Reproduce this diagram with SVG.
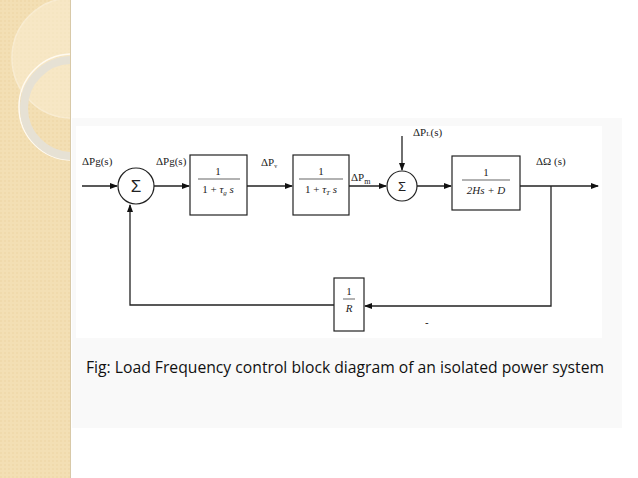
<svg xmlns="http://www.w3.org/2000/svg" width="638" height="478" viewBox="0 0 638 478">
<defs>
<pattern id="dots" width="4" height="4" patternUnits="userSpaceOnUse"><rect width="4" height="4" fill="#f3dfb4"/><circle cx="1" cy="1" r="0.7" fill="#ecd39f"/></pattern>
<clipPath id="strip"><rect width="70" height="478"/></clipPath>
<marker id="ar" markerWidth="8" markerHeight="6" refX="7" refY="3" orient="auto" markerUnits="userSpaceOnUse"><path d="M0,0 L8,3 L0,6 Z" fill="#111"/></marker>
<style>
.ln{stroke:#222;stroke-width:1.3;fill:none}
.bx{stroke:#222;stroke-width:1.2;fill:#fff}
.t{font-family:"Liberation Serif",serif;font-size:11px;fill:#222}
.ti{font-family:"Liberation Serif",serif;font-size:11px;fill:#222;font-style:italic}
</style>
</defs>
<rect width="638" height="478" fill="#fff"/>
<rect width="70" height="478" fill="url(#dots)"/>
<g clip-path="url(#strip)">
<circle cx="72" cy="58" r="60" fill="#fbf0d6" opacity="0.5" stroke="#fffaf0" stroke-width="1.5"/>
<circle cx="72" cy="107" r="53" fill="none" stroke="#fffaf0" stroke-width="1.5"/>
<circle cx="72" cy="108" r="48" fill="none" stroke="#e6e1d4" stroke-width="8"/>
</g>
<line x1="70.5" y1="0" x2="70.5" y2="478" stroke="#d8c9a8"/>
<rect x="72" y="118" width="550" height="310" fill="#f9f9f9"/>
<rect x="76" y="126" width="526" height="212" fill="#fff"/>
<text x="86" y="373" font-family="'Open Sans',sans-serif" font-size="16" fill="#111" textLength="518" lengthAdjust="spacingAndGlyphs">Fig: Load Frequency control block diagram of an isolated power system</text>
<g id="connectors">
<line class="ln" x1="82" y1="186" x2="117" y2="186" marker-end="url(#ar)"/>
<line class="ln" x1="154" y1="186" x2="189" y2="186" marker-end="url(#ar)"/>
<line class="ln" x1="247" y1="186" x2="292" y2="186" marker-end="url(#ar)"/>
<line class="ln" x1="349" y1="186" x2="386" y2="186" marker-end="url(#ar)"/>
<line class="ln" x1="402" y1="136" x2="402" y2="170" marker-end="url(#ar)"/>
<line class="ln" x1="417" y1="186" x2="451" y2="186" marker-end="url(#ar)"/>
<line class="ln" x1="520" y1="186" x2="598" y2="186" marker-end="url(#ar)"/>
<polyline class="ln" points="551,186 551,306 365,306" marker-end="url(#ar)"/>
<polyline class="ln" points="334,305 130,305 130,205" marker-end="url(#ar)"/>
</g>
<g id="labels">
<text class="t" x="82" y="165">ΔPg(s)</text>
<text class="t" x="156" y="165">ΔPg(s)</text>
<text class="t" x="261" y="166">ΔP<tspan font-size="6" dy="2">v</tspan></text>
<text class="t" x="351" y="181" font-size="13">ΔP<tspan font-size="8" dy="3">m</tspan></text>
<text class="t" x="413" y="136">ΔP<tspan font-size="7">L</tspan>(s)</text>
<text class="t" x="536" y="165">ΔΩ (s)</text>
<text x="425" y="326" font-family="Liberation Sans,sans-serif" font-size="11" fill="#222">-</text>
</g>
<g id="sum1"><circle class="bx" cx="136" cy="186" r="18"/><text x="136" y="192" text-anchor="middle" font-family="Liberation Sans,sans-serif" font-size="17" fill="#222">Σ</text></g>
<g id="gov"><rect class="bx" x="190" y="155" width="57" height="60"/><text class="t" x="218" y="175" text-anchor="middle">1</text><line x1="198" y1="179" x2="240" y2="179" stroke="#222" stroke-width="0.7"/><text class="t" x="218" y="193" text-anchor="middle">1 + <tspan font-style="italic">τ</tspan><tspan font-size="7" dy="2" font-style="italic">g</tspan><tspan dy="-2" font-style="italic"> s</tspan></text></g>
<g id="turb"><rect class="bx" x="293" y="155" width="56" height="60"/><text class="t" x="321" y="175" text-anchor="middle">1</text><line x1="299" y1="179" x2="343" y2="179" stroke="#222" stroke-width="0.7"/><text class="t" x="321" y="193" text-anchor="middle">1 + <tspan font-style="italic">τ</tspan><tspan font-size="7" dy="2" font-style="italic">T</tspan><tspan dy="-2" font-style="italic"> s</tspan></text></g>
<g id="sum2"><circle class="bx" cx="402" cy="186" r="15"/><text x="402" y="191" text-anchor="middle" font-family="Liberation Sans,sans-serif" font-size="13" fill="#222">Σ</text></g>
<g id="load"><rect class="bx" x="452" y="156" width="68" height="54"/><text class="t" x="486" y="176" text-anchor="middle">1</text><line x1="462" y1="180" x2="510" y2="180" stroke="#222" stroke-width="0.7"/><text class="ti" x="486" y="194" text-anchor="middle">2Hs + D</text></g>
<g id="droop"><rect class="bx" x="334" y="278" width="30" height="53"/><text class="t" x="349" y="295" text-anchor="middle">1</text><line x1="343" y1="299" x2="355" y2="299" stroke="#222" stroke-width="0.7"/><text class="ti" x="349" y="312" text-anchor="middle">R</text></g>
</svg>
